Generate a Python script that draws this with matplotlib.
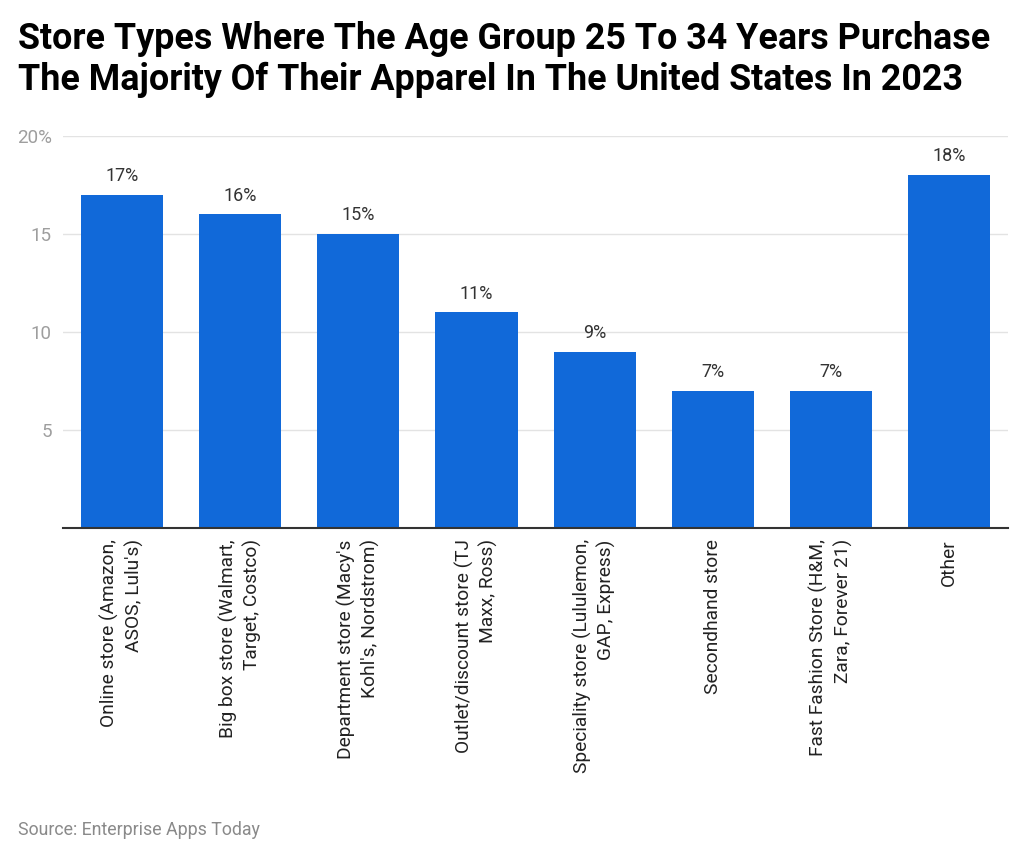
import matplotlib.pyplot as plt
from matplotlib.ticker import FixedLocator, FuncFormatter

plt.rcParams['font.family'] = ['Roboto', 'DejaVu Sans']

categories = [
    "Online store (Amazon,\nASOS, Lulu's)",
    "Big box store (Walmart,\nTarget, Costco)",
    "Department store (Macy's\nKohl's, Nordstrom)",
    "Outlet/discount store (TJ\nMaxx, Ross)",
    "Speciality store (Lululemon,\nGAP, Express)",
    "Secondhand store",
    "Fast Fashion Store (H&M,\nZara, Forever 21)",
    "Other",
]
shares = [17, 16, 15, 11, 9, 7, 7, 18]
y_ticks = [5, 10, 15, 20]

fig = plt.figure(figsize=(10.24, 8.59), dpi=100)
ax = fig.add_axes([0.0615, 0.3853, 0.923, 0.4564])

x = list(range(len(categories)))
bars = ax.bar(x, shares, width=0.695, color='#1169d9', zorder=3)

for xi, v in zip(x, shares):
    ax.text(xi, v + 0.5, f"{v}%", ha='center', va='bottom', fontsize=13, color='#333333')

ax.set_xlim(-0.5, len(categories) - 0.5)
ax.set_ylim(0, 20)
ax.yaxis.set_major_locator(FixedLocator(y_ticks))
ax.yaxis.set_major_formatter(FuncFormatter(lambda v, p: f"{int(v)}%" if v == 20 else f"{int(v)}"))
ax.grid(axis='y', color='#e3e3e3', linewidth=1, zorder=0)
ax.tick_params(axis='y', length=0, labelsize=13.5, labelcolor='#9e9e9e', pad=8)

ax.set_xticks(x)
ax.set_xticklabels(categories, rotation=90, ha='center', va='top', multialignment='right',
                   fontsize=13.8, color='#222222', linespacing=1.35)
ax.tick_params(axis='x', length=0, pad=8)

for side in ['top', 'right', 'left']:
    ax.spines[side].set_visible(False)
ax.spines['bottom'].set_color('#333333')
ax.spines['bottom'].set_linewidth(1.5)
ax.spines['bottom'].set_zorder(4)

fig.text(0.018, 0.975, "Store Types Where The Age Group 25 To 34 Years Purchase\nThe Majority Of Their Apparel In The United States In 2023",
         ha='left', va='top', fontsize=25.8, fontweight='bold', color='#000000', linespacing=1.15)
fig.text(0.018, 0.023, "Source: Enterprise Apps Today", ha='left', va='bottom', fontsize=12.8, color='#8a8a8a')

fig.savefig('out.png', dpi=100)
